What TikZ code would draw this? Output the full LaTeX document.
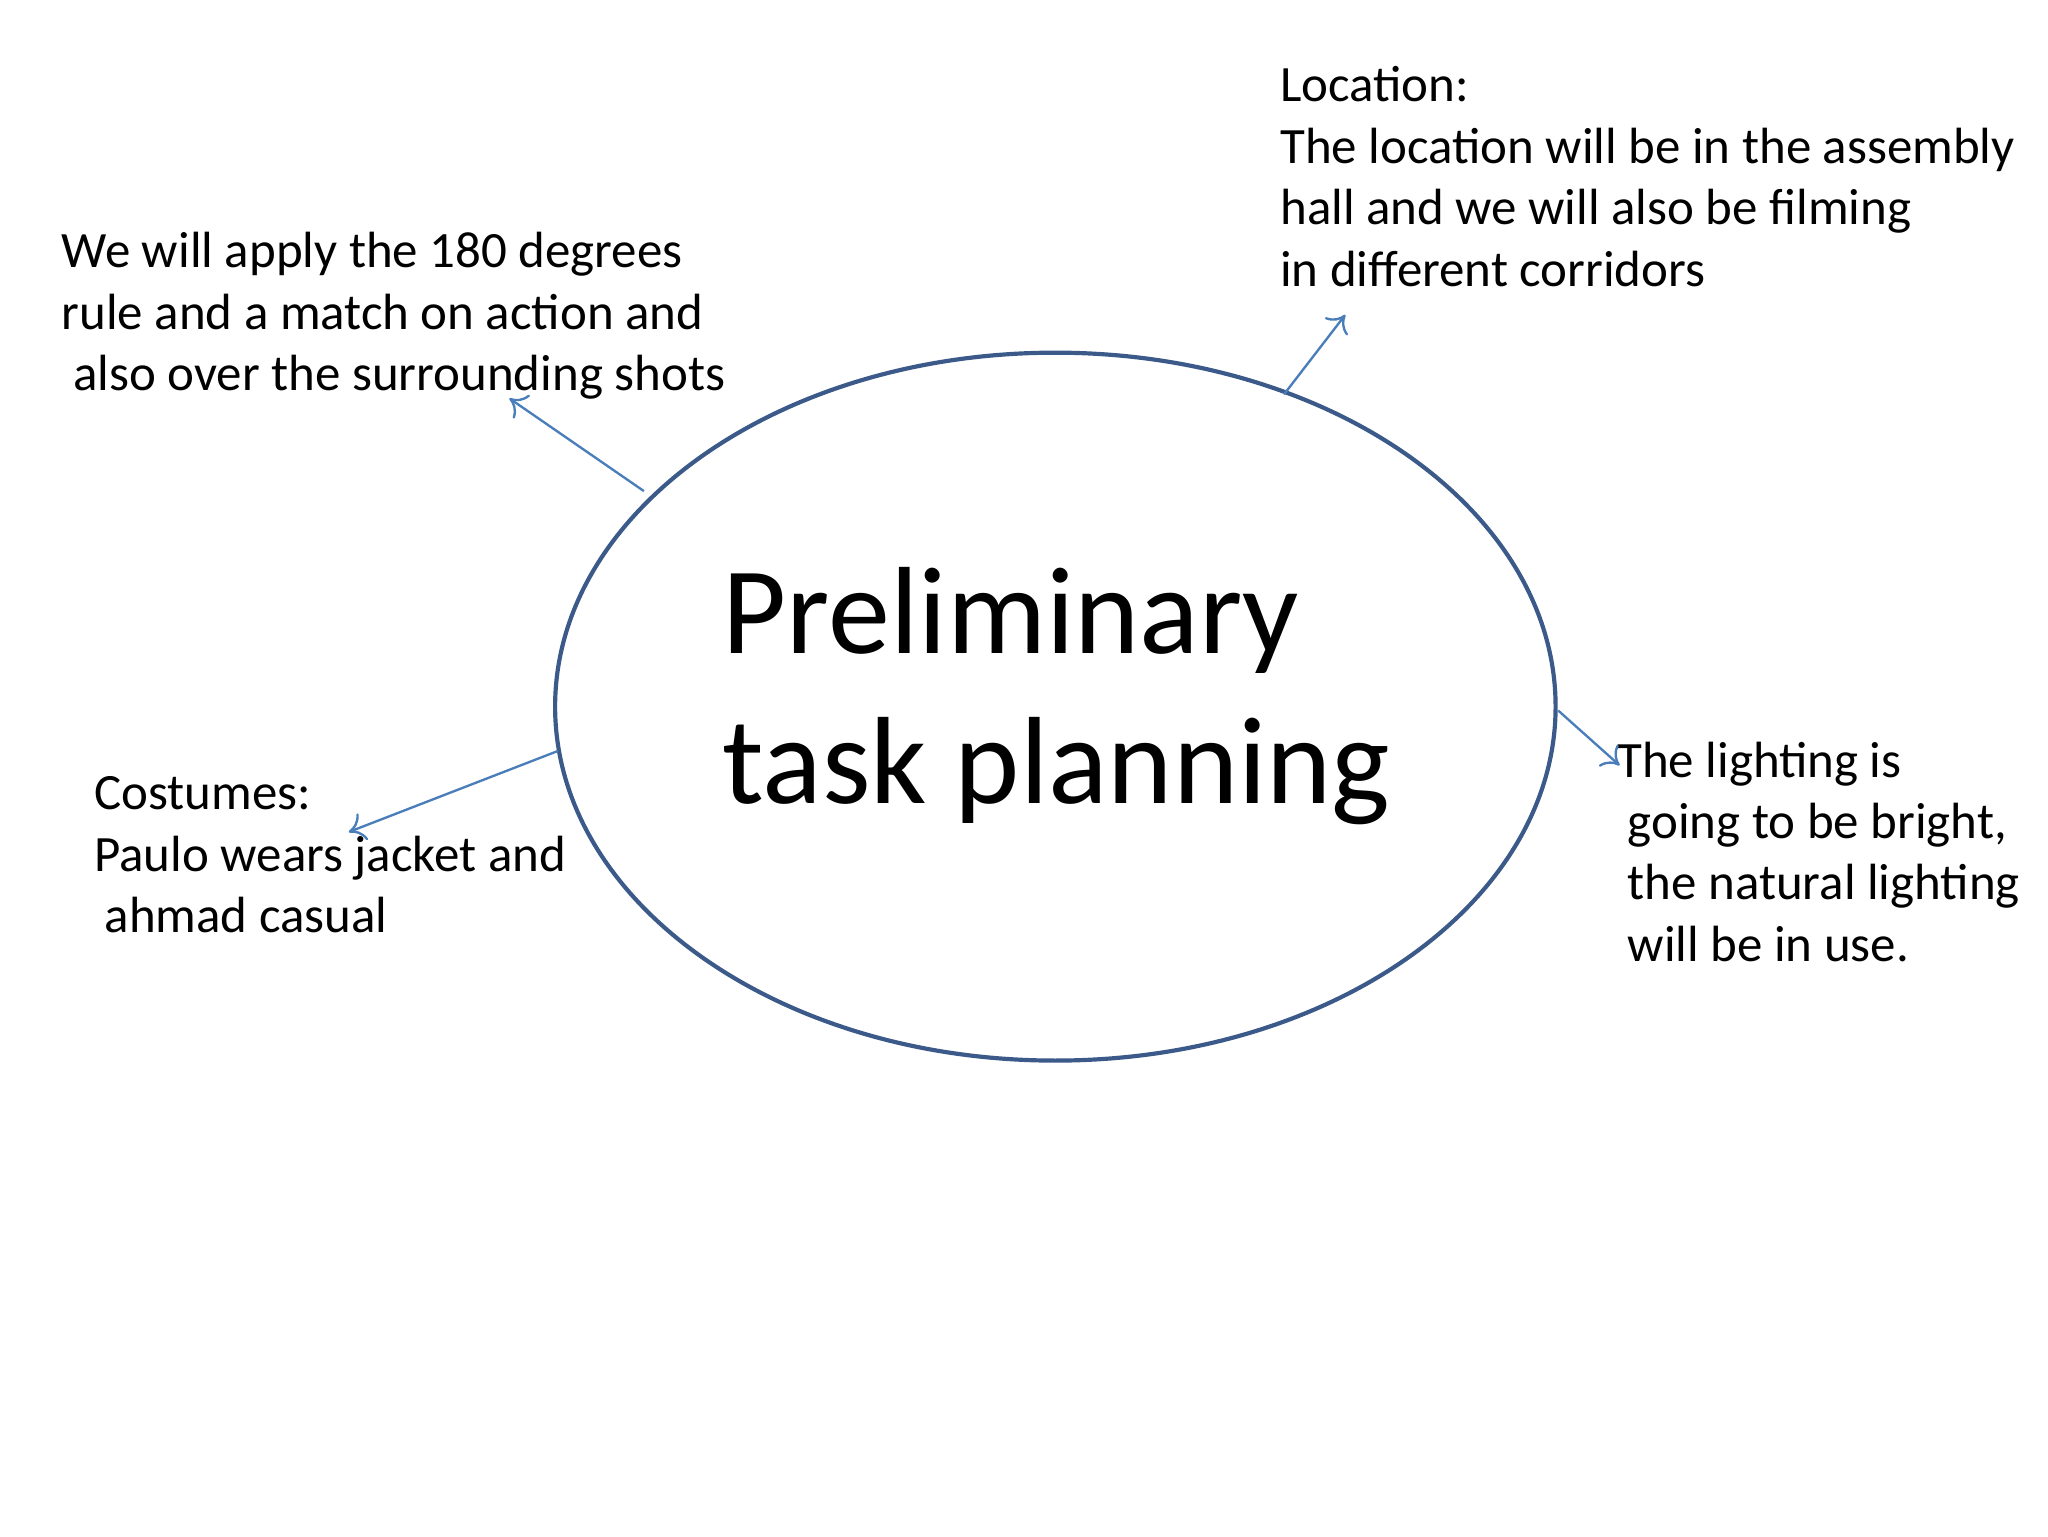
\documentclass[tikz,border=0pt]{standalone}
\usepackage{fontspec}
\setmainfont{Carlito}
\usetikzlibrary{arrows.meta}
\definecolor{ell}{HTML}{3B5A8A}
\definecolor{arr}{HTML}{4A7EBB}
\begin{document}
\begin{tikzpicture}[x=1pt,y=-1pt,
  txt/.style={anchor=base west,inner sep=0pt,align=left,font=\fontsize{39}{47}\selectfont},
  conn/.style={draw=arr,line width=1.8pt,-{To[length=12pt,width=22pt]}}]
\useasboundingbox (0,0) rectangle (1568,1176);
\draw[ell,line width=3.2pt] (808,541) ellipse [x radius=383, y radius=271];
\node[inner sep=0pt,anchor=base west,align=left,font=\fontsize{95}{115}\selectfont] (title) at (553,615) {Preliminary\\task planning};
\node[txt] (rule) at (47,299) {We will apply the 180 degrees\\rule and a match on action and\\\hspace*{9pt}also over the surrounding shots};
\node[txt] (loc) at (980,219) {Location:\\The location will be in the assembly\\hall and we will also be filming\\in different corridors};
\node[txt] (light) at (1238,736) {The lighting is\\\hspace*{8pt}going to be bright,\\\hspace*{8pt}the natural lighting\\\hspace*{8pt}will be in use.};
\node[txt] (cost) at (72,714) {Costumes:\\Paulo wears jacket and\\\hspace*{8pt}ahmad casual};
\coordinate (e1) at (493,376); \coordinate (t1) at (390,305);
\coordinate (e2) at (983,302); \coordinate (t2) at (1030,241);
\coordinate (e3) at (1193,544); \coordinate (t3) at (1240,586);
\coordinate (e4) at (427,575); \coordinate (t4) at (267,637);
\draw[conn] (e1) -- (t1);
\draw[conn] (e2) -- (t2);
\draw[conn] (e3) -- (t3);
\draw[conn] (e4) -- (t4);
\end{tikzpicture}
\end{document}
